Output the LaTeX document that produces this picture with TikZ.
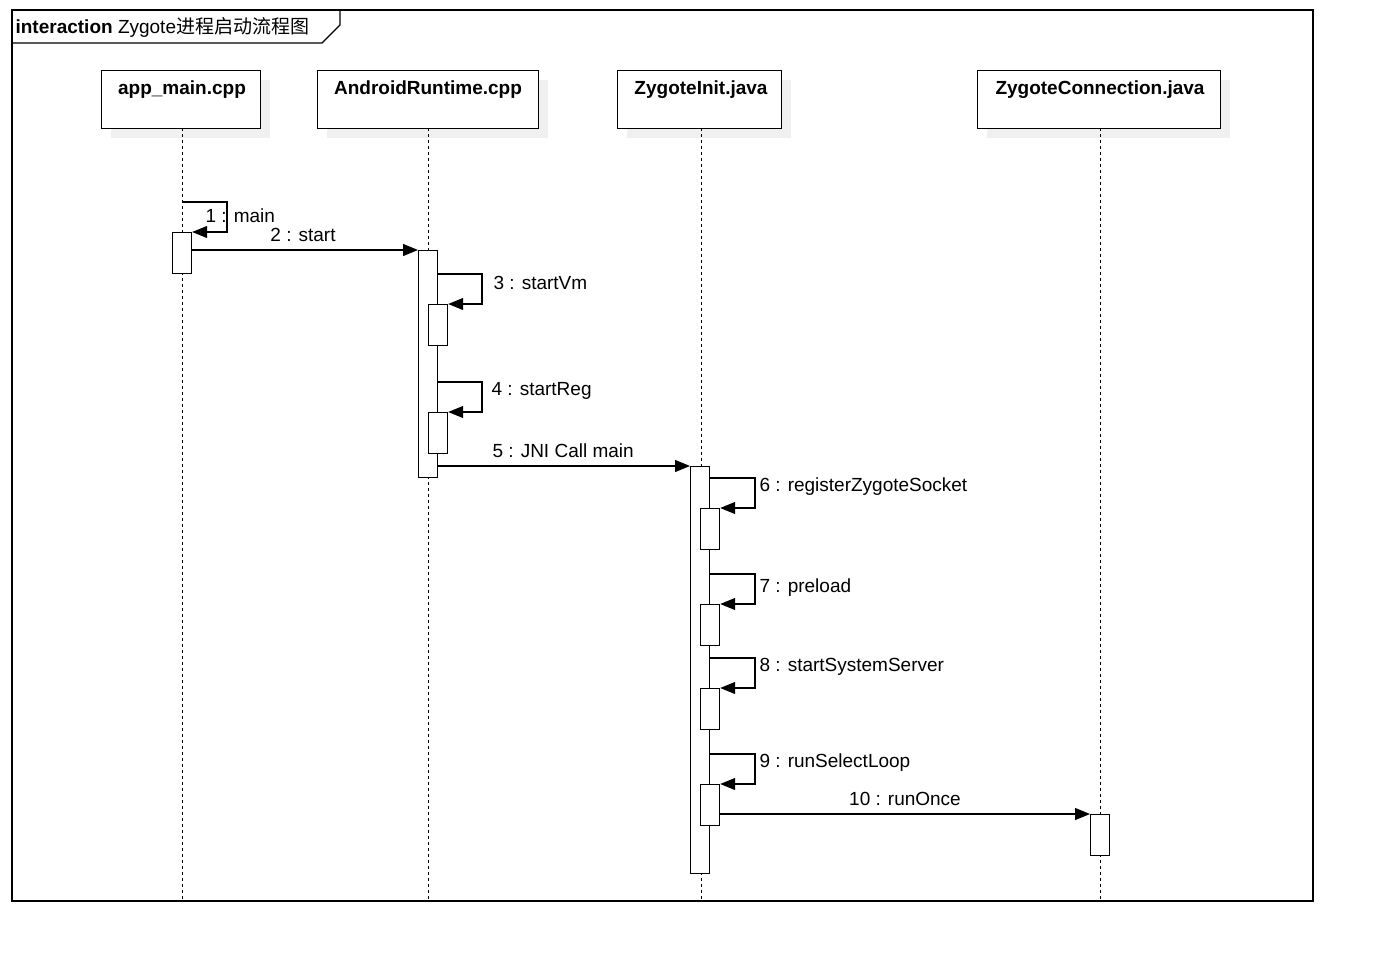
\documentclass[tikz,border=0pt]{standalone}
\usepackage{fontspec}
\setmainfont{Liberation Sans}
\newfontfamily\cjk{Noto Sans CJK SC}
\usetikzlibrary{arrows.meta,positioning}

\begin{document}
\begin{tikzpicture}[x=1pt,y=-1pt,line width=1.2pt,font=\fontsize{19}{22}\selectfont,
    msg/.style={-{Triangle[length=15pt,width=12pt]}},
    head node/.style={draw,fill=white,anchor=north west,inner sep=0pt},
    act node/.style={draw,fill=white,anchor=north west,inner sep=0pt,minimum width=19pt},
    lbl/.style={anchor=west,inner sep=0pt}]
  \useasboundingbox (0,0) rectangle (1375,966);

  % frame
  \draw (12,10) rectangle (1313,901);
  \draw (12,43) -- (322,43) -- (340,25) -- (340,10);
  \node[lbl] at (15,27) {\textbf{interaction} Zygote\cjk 进程启动流程图};

  % lifelines
  \foreach \x/\w/\c/\n/\t in {101/159/182/am/app\_main.cpp, 317/221/428/ar/AndroidRuntime.cpp,
                               617/164/701/zi/ZygoteInit.java, 977/243/1100/zc/ZygoteConnection.java} {
    \fill[black!6] (\x+10,80) rectangle (\x+\w+10,138);
    \draw[dashed,line width=0.9pt] (\c,128) -- (\c,901);
    \node[head node,minimum width=\w pt,minimum height=58pt] (\n) at (\x,70) {};
    \node[font=\fontsize{19}{22}\selectfont\bfseries] at (\c,90) {\t};
  }

  % activations
  \node[act node,minimum height=41pt]  (am1) at (172,232) {};
  \node[act node,minimum height=227pt] (ar1) at (418,250) {};
  \node[act node,minimum height=41pt]  (ar2) at (428,304) {};
  \node[act node,minimum height=41pt]  (ar3) at (428,412) {};
  \node[act node,minimum height=407pt] (zi1) at (690,466) {};
  \node[act node,minimum height=41pt]  (zi2) at (700,508) {};
  \node[act node,minimum height=41pt]  (zi3) at (700,604) {};
  \node[act node,minimum height=41pt]  (zi4) at (700,688) {};
  \node[act node,minimum height=41pt]  (zi5) at (700,784) {};
  \node[act node,minimum height=41pt]  (zc1) at (1090,814) {};

  % messages
  \draw[msg] (182,202) -- (227,202) -- (227,232) -- (am1.north east);
  \node[lbl] at (205,216) {1 : main};
  \draw[msg] (am1.east |- 0,250) -- (ar1.north west);
  \node at (303,235) {2 : start};
  \draw[msg] (ar1.east |- 0,274) -- (482,274) -- (482,304) -- (ar2.north east);
  \node[lbl] at (493,283) {3 : startVm};
  \draw[msg] (ar1.east |- 0,382) -- (482,382) -- (482,412) -- (ar3.north east);
  \node[lbl] at (491,391) {4 : startReg};
  \draw[msg] (ar1.east |- 0,466) -- (zi1.north west);
  \node[lbl] at (492,451) {5 : JNI Call main};
  \foreach \a/\y/\d/\t in {zi2/478/9/6 : registerZygoteSocket, zi3/574/14/7 : preload,
                           zi4/658/9/8 : startSystemServer, zi5/754/9/9 : runSelectLoop} {
    \draw[msg] (zi1.east |- 0,\y) -- (755,\y) -- (755,\y+30) -- (\a.north east);
    \node[lbl] at (759,\y+\d) {\t};
  }
  \draw[msg] (zi5.east |- 0,814) -- (zc1.north west);
  \node at (905,799) {10 : runOnce};
\end{tikzpicture}
\end{document}
